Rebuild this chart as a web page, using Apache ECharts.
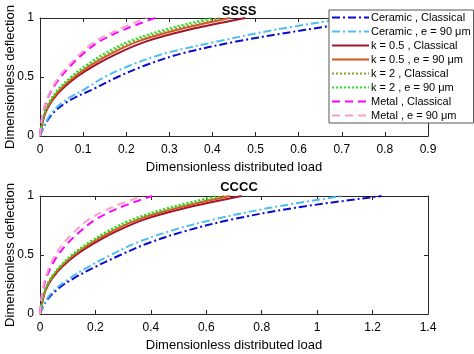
<!DOCTYPE html>
<html>
<head>
    <meta charset="utf-8">
    <script src="https://cdn.jsdelivr.net/npm/echarts@6/dist/echarts.min.js"></script>
</head>
<body style="margin:0;background:#fff;">
    <div id="main" style="width: 474px;height:354px;"></div>
    <script type="text/javascript">
        // deflection levels (y), loads at each level (x)
        var deflection = [0, 0.1, 0.2, 0.3, 0.4, 0.5, 0.6, 0.7, 0.8, 0.9, 1];

        // SSSS panel
        var ssssCeramicCl = [0, 0.012, 0.032, 0.068, 0.125, 0.18, 0.245, 0.33, 0.455, 0.615, 0.80];
        var ssssCeramicE  = [0, 0.011, 0.028, 0.058, 0.105, 0.15, 0.21, 0.29, 0.41, 0.545, 0.715];
        var ssssK05Cl     = [0, 0.005, 0.013, 0.028, 0.052, 0.085, 0.128, 0.18, 0.245, 0.345, 0.476];
        var ssssK05E      = [0, 0.0046, 0.012, 0.026, 0.048, 0.079, 0.118, 0.166, 0.226, 0.319, 0.44];
        var ssssK2Cl      = [0, 0.0044, 0.0115, 0.025, 0.046, 0.075, 0.113, 0.159, 0.216, 0.304, 0.42];
        var ssssK2E       = [0, 0.0042, 0.011, 0.023, 0.043, 0.071, 0.107, 0.15, 0.205, 0.288, 0.398];
        var ssssMetalCl   = [0, 0.0028, 0.0073, 0.0157, 0.029, 0.048, 0.072, 0.101, 0.137, 0.194, 0.267];
        var ssssMetalE    = [0, 0.0026, 0.0068, 0.0145, 0.027, 0.044, 0.067, 0.094, 0.127, 0.18, 0.247];

        // CCCC panel
        var ccccCeramicCl = [0, 0.02, 0.058, 0.12, 0.2, 0.29, 0.39, 0.52, 0.69, 0.92, 1.233];
        var ccccCeramicE  = [0, 0.018, 0.05, 0.105, 0.175, 0.255, 0.345, 0.465, 0.625, 0.83, 1.089];
        var ccccK05Cl     = [0, 0.008, 0.02, 0.043, 0.08, 0.13, 0.196, 0.275, 0.375, 0.528, 0.728];
        var ccccK05E      = [0, 0.0075, 0.019, 0.04, 0.075, 0.122, 0.184, 0.259, 0.353, 0.497, 0.685];
        var ccccK2Cl      = [0, 0.0073, 0.018, 0.039, 0.073, 0.119, 0.179, 0.251, 0.342, 0.482, 0.665];
        var ccccK2E       = [0, 0.007, 0.0176, 0.038, 0.07, 0.114, 0.172, 0.242, 0.33, 0.464, 0.64];
        var ccccMetalCl   = [0, 0.004, 0.01, 0.022, 0.04, 0.065, 0.1, 0.145, 0.2, 0.285, 0.405];
        var ccccMetalE    = [0, 0.0035, 0.009, 0.019, 0.034, 0.055, 0.085, 0.125, 0.175, 0.255, 0.37];

        var seriesNames = [
            'Ceramic , Classical', 'Ceramic , e = 90 μm',
            'k = 0.5 , Classical', 'k = 0.5 , e = 90 μm',
            'k = 2 , Classical', 'k = 2 , e = 90 μm',
            'Metal , Classical', 'Metal , e = 90 μm'
        ];
        var ssssLoads = [ssssCeramicCl, ssssCeramicE, ssssK05Cl, ssssK05E, ssssK2Cl, ssssK2E, ssssMetalCl, ssssMetalE];
        var ccccLoads = [ccccCeramicCl, ccccCeramicE, ccccK05Cl, ccccK05E, ccccK2Cl, ccccK2E, ccccMetalCl, ccccMetalE];

        var styles = [
            { color: '#0a0ad2', type: [8, 3, 2, 3] },
            { color: '#4dbeee', type: [8, 3, 2, 3] },
            { color: '#a2142f', type: 'solid' },
            { color: '#d95319', type: 'solid' },
            { color: '#77ac30', type: [2, 2] },
            { color: '#22e022', type: [2, 2] },
            { color: '#ff00ff', type: [8, 5] },
            { color: '#f9a0c8', type: [8, 5] }
        ];

        var axisColor = '#262626';
        var font = 'Liberation Sans, Arial, sans-serif';

        function xAx(grid, max, interval, top) {
            return {
                type: 'value', gridIndex: grid, min: 0, max: max, interval: interval,
                position: top ? 'top' : 'bottom',
                name: top ? '' : 'Dimensionless distributed load',
                nameLocation: 'middle', nameGap: 25, nameMoveOverlap: false,
                nameTextStyle: { color: '#000', fontSize: 13, fontFamily: font },
                axisLine: { show: true, onZero: false, lineStyle: { color: axisColor, width: 1 } },
                axisTick: { show: true, inside: true, length: 4, lineStyle: { color: axisColor } },
                axisLabel: { show: !top, color: '#000', fontSize: 12, fontFamily: font, margin: 8 },
                splitLine: { show: false }
            };
        }
        function yAx(grid, right) {
            return {
                type: 'value', gridIndex: grid, min: 0, max: 1, interval: 0.5,
                position: right ? 'right' : 'left',
                name: right ? '' : 'Dimensionless deflection',
                nameLocation: 'middle', nameGap: 23, nameMoveOverlap: false,
                nameTextStyle: { color: '#000', fontSize: 13, fontFamily: font },
                axisLine: { show: true, onZero: false, lineStyle: { color: axisColor, width: 1 } },
                axisTick: { show: true, inside: true, length: 4, lineStyle: { color: axisColor } },
                axisLabel: { show: !right, color: '#000', fontSize: 12, fontFamily: font, margin: 6 },
                splitLine: { show: false }
            };
        }

        var series = [];
        [ssssLoads, ccccLoads].forEach(function (loads, g) {
            loads.forEach(function (q, i) {
                series.push({
                    name: seriesNames[i],
                    type: 'line',
                    xAxisIndex: g * 2,
                    yAxisIndex: g * 2,
                    showSymbol: false,
                    symbol: 'none',
                    smooth: 0.35,
                    clip: true,
                    lineStyle: { color: styles[i].color, type: styles[i].type, width: 2 },
                    itemStyle: { color: styles[i].color },
                    data: deflection.map(function (w, k) { return [q[k], w]; })
                });
            });
        });

        var chart = echarts.init(document.getElementById('main'));
        chart.setOption({
            animation: false,
            backgroundColor: '#fff',
            title: [
                { text: 'SSSS', left: 234, top: 0, textAlign: 'center',
                  textStyle: { fontSize: 13, fontWeight: 'bold', color: '#000', fontFamily: font } },
                { text: 'CCCC', left: 234, top: 176, textAlign: 'center',
                  textStyle: { fontSize: 13, fontWeight: 'bold', color: '#000', fontFamily: font } }
            ],
            legend: {
                data: seriesNames,
                orient: 'vertical',
                left: 329, top: 10,
                itemWidth: 37, itemHeight: 12, itemGap: 3,
                padding: [2, 3, 2, 2],
                backgroundColor: '#fff',
                borderColor: '#555',
                borderWidth: 1,
                itemStyle: { color: 'transparent', borderWidth: 0, opacity: 0 },
                textStyle: { fontSize: 11, color: '#000', fontFamily: font, padding: [0, 0, 0, -3] }
            },
            grid: [
                { left: 40, top: 18, width: 388, height: 118, containLabel: false, outerBoundsMode: 'none' },
                { left: 40, top: 196, width: 388, height: 118, containLabel: false, outerBoundsMode: 'none' }
            ],
            xAxis: [xAx(0, 0.9, 0.1, false), xAx(0, 0.9, 0.1, true), xAx(1, 1.4, 0.2, false), xAx(1, 1.4, 0.2, true)],
            yAxis: [yAx(0, false), yAx(0, true), yAx(1, false), yAx(1, true)],
            series: series
        });
    </script>
</body>
</html>
